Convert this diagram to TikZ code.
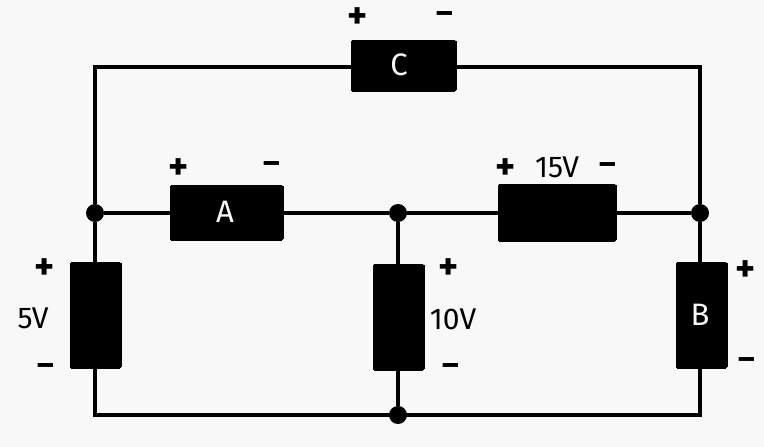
\documentclass[tikz,border=0pt]{standalone}
\usepackage{fontspec}
\setmainfont{Fira Sans}
\usepackage{xcolor}
\usetikzlibrary{positioning}
\definecolor{paper}{HTML}{F8F8F8}
\tikzset{
element/.style 2 args={draw=black,fill=black,line width=0pt,rounded corners=1.5pt,inner sep=0pt,minimum width=#1,minimum height=#2},
terminal/.style={circle,fill=black,inner sep=0pt,minimum size=18pt},
tag/.style={inner sep=0pt,text=paper,font=\fontsize{31}{31}\selectfont},
plus/.style={inner sep=0pt,yshift=-3.5pt,font=\fontsize{38}{38}\selectfont\bfseries},
minus/.style={inner sep=0pt,xshift=1pt,yshift=-5pt,font=\fontsize{32}{32}\selectfont\bfseries},
volt/.style={inner sep=0pt,font=\fontsize{30}{30}\selectfont},
wire/.style={line width=3.4pt,line join=miter},
}
\begin{document}
\begin{tikzpicture}[x=1pt,y=-1pt]
\fill[paper] (0,0) rectangle (764,447);
\useasboundingbox (0,0) rectangle (764,447);

%Place the nodes
\coordinate (tl) at (95,67);
\coordinate (tr) at (700,67);
\coordinate (bl) at (95,415);
\coordinate (br) at (700,415);
\node[terminal] (jl) at (95,213) {};
\node[terminal] (jm) at (398,213) {};
\node[terminal] (jr) at (700,213) {};
\node[terminal] (jb) at (398,415) {};

%
\draw[wire] (jl) -- (tl) -- (tr) -- (jr);
\draw[wire] (jl) -- (jm) -- (jr);
\draw[wire] (jl) -- (bl) -- (br) -- (jr);
\draw[wire] (jm) -- (jb);

%
\node[element={105pt}{51pt}] (C) at (403.5,65.5) {};
\node[element={113pt}{55pt}] (A) at (226.5,212.5) {};
\node[element={118pt}{57pt}] (D) at (557,212.5) {};
\node[element={51pt}{106pt}] (S) at (95.5,315) {};
\node[element={51pt}{106pt}] (M) at (398.5,317) {};
\node[element={51pt}{106pt}] (B) at (701.5,315) {};

%
\node[tag] (lc) at (399,65) {C};
\node[tag] (la) at (225,212) {A};
\node[tag] (lb) at (700,315) {B};
\node[volt] (v5) at (33,318) {5V};
\node[volt] (v10) at (453,319) {10V};
\node[volt] (v15) at (557,167) {15V};

%
\node[plus] (cp) at (358,15) {+};
\node[minus] (cm) at (444,13) {–};
\node[plus] (ap) at (179,166) {+};
\node[minus] (am) at (271,163) {–};
\node[plus] (dp) at (506,166) {+};
\node[minus] (dm) at (607,164) {–};
\node[plus] (sp) at (45,266) {+};
\node[minus] (sm) at (45,365) {–};
\node[plus] (mp) at (449,266) {+};
\node[minus] (mm) at (450,365) {–};
\node[plus] (bp) at (746,268) {+};
\node[minus] (bm) at (746,359) {–};
\end{tikzpicture}
\end{document}
